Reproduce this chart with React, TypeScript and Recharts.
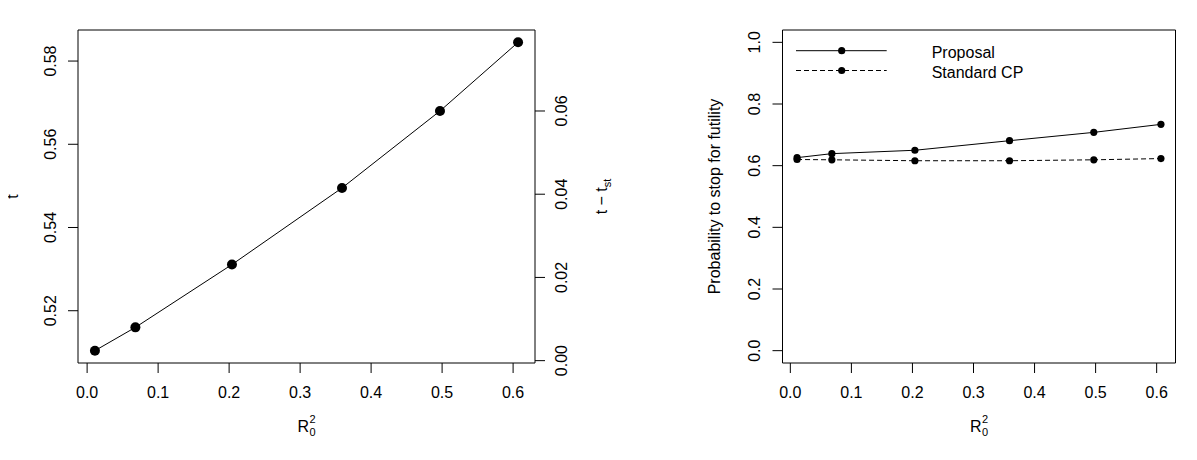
import React from 'react';
import { ComposedChart, Line, XAxis, YAxis, ReferenceArea, Legend } from 'recharts';

// ---- data ----
const r2Values = [0.011, 0.068, 0.204, 0.359, 0.497, 0.607];
const tValues = [0.5104, 0.516, 0.5311, 0.5495, 0.568, 0.5845];
const proposalValues = [0.626, 0.639, 0.65, 0.681, 0.708, 0.734];
const standardCPValues = [0.62, 0.619, 0.616, 0.616, 0.619, 0.623];
const tSt = 0.508;

const xTicks = [0, 0.1, 0.2, 0.3, 0.4, 0.5, 0.6];
const tTicks = [0.52, 0.54, 0.56, 0.58];
const diffTicks = [0, 0.02, 0.04, 0.06];
const probTicks = [0, 0.2, 0.4, 0.6, 0.8, 1.0];
const seriesNames = ['Proposal', 'Standard CP'];

// R-style 4% axis extension
const ext = (lo: number, hi: number): [number, number] => {
  const p = (hi - lo) * 0.04;
  return [lo - p, hi + p];
};

const xDomain = ext(Math.min(...r2Values), Math.max(...r2Values));
const tDomain = ext(Math.min(...tValues), Math.max(...tValues));
const diffDomain: [number, number] = [tDomain[0] - tSt, tDomain[1] - tSt];
const probDomain = ext(0, 1);

const leftData = r2Values.map((x, i) => ({ x, t: tValues[i] }));
const rightData = r2Values.map((x, i) => ({
  x,
  proposal: proposalValues[i],
  standard: standardCPValues[i],
}));

const FONT = '"Liberation Sans", Arial, Helvetica, sans-serif';
const BLACK = '#000';
const DASH = '5 3';

const fmt1 = (v: number) => v.toFixed(1);
const fmt2 = (v: number) => v.toFixed(2);

const makeXTick = (f: (v: number) => string) => (props: any) => {
  const { x, y, payload } = props;
  return (
    <text x={x} y={y + 23} textAnchor="middle" fontFamily={FONT} fontSize={16} fill={BLACK}>
      {f(payload.value)}
    </text>
  );
};

const makeYTick = (f: (v: number) => string, dx: number) => (props: any) => {
  const { x, y, payload } = props;
  return (
    <text
      transform={`translate(${x + dx},${y}) rotate(-90)`}
      textAnchor="middle"
      fontFamily={FONT}
      fontSize={16}
      fill={BLACK}
    >
      {f(payload.value)}
    </text>
  );
};

const R2Label = (props: any) => {
  const vb = props.viewBox || {};
  const cx = vb.x + vb.width / 2;
  const base = vb.y + 68.7;
  return (
    <g fontFamily={FONT} fill={BLACK}>
      <text x={cx - 9} y={base} fontSize={16} fill={BLACK}>R</text>
      <text x={cx + 3} y={base - 8.7} fontSize={11} fill={BLACK}>2</text>
      <text x={cx + 3} y={base + 4.3} fontSize={11} fill={BLACK}>0</text>
    </g>
  );
};

const makeVLabel = (content: React.ReactNode, dx: number) => (props: any) => {
  const vb = props.viewBox || {};
  const cy = vb.y + vb.height / 2;
  return (
    <text
      transform={`translate(${vb.x + dx},${cy}) rotate(-90)`}
      textAnchor="middle"
      fontFamily={FONT}
      fontSize={16}
      fill={BLACK}
    >
      {content}
    </text>
  );
};

const LegendBox = (props: any) => {
  const payload = (props.payload || []) as any[];
  const names = payload.length ? payload.map((p) => p.value) : seriesNames;
  return (
    <svg width={250} height={50} style={{ display: 'block' }}>
      {names.map((n: string, i: number) => {
        const ly = 10.7 + i * 19.8;
        return (
          <g key={n}>
            <line x1={6} x2={96.7} y1={ly} y2={ly} stroke={BLACK} strokeWidth={1}
              strokeDasharray={i === 1 ? DASH : undefined} />
            <circle cx={51.7} cy={ly} r={3.6} fill={BLACK} />
            <text x={141.7} y={ly + 7} fontFamily={FONT} fontSize={16} fill={BLACK}>{n}</text>
          </g>
        );
      })}
    </svg>
  );
};

export default function App() {
  return (
    <div style={{ position: 'relative', width: 1197, height: 460, margin: -8, background: '#fff' }}>
      <div style={{ position: 'absolute', left: 0, top: 0 }}>
        <ComposedChart width={640} height={460} data={leftData}
          margin={{ top: 30, right: 45, bottom: 37, left: 18 }}>
          <XAxis dataKey="x" type="number" domain={xDomain} ticks={xTicks} allowDataOverflow
            height={60} axisLine={false} tickSize={10} tickLine={{ stroke: BLACK }}
            tick={makeXTick(fmt1)} interval={0} label={R2Label} />
          <YAxis yAxisId="left" type="number" domain={tDomain} ticks={tTicks} allowDataOverflow
            width={60} axisLine={false} tickSize={10} tickLine={{ stroke: BLACK }}
            tick={makeYTick(fmt2, -10)} interval={0} label={makeVLabel('t', 0)} />
          <YAxis yAxisId="right" orientation="right" type="number" domain={diffDomain}
            ticks={diffTicks} allowDataOverflow width={60} axisLine={false} tickSize={10}
            tickLine={{ stroke: BLACK }} tick={makeYTick(fmt2, 20)} interval={0}
            label={makeVLabel(<>
              t − t<tspan dy={4} fontSize={11}>st</tspan>
            </>, 72)} />
          <ReferenceArea yAxisId="left" x1={xDomain[0]} x2={xDomain[1]} y1={tDomain[0]} y2={tDomain[1]}
            fill="none" stroke={BLACK} strokeWidth={1} ifOverflow="visible" />
          <Line yAxisId="left" dataKey="t" type="linear" stroke={BLACK} strokeWidth={1}
            dot={{ r: 5, fill: BLACK, stroke: BLACK, strokeWidth: 0 }} isAnimationActive={false} />
        </ComposedChart>
      </div>
      <div style={{ position: 'absolute', left: 640, top: 0 }}>
        <ComposedChart width={557} height={460} data={rightData}
          margin={{ top: 30, right: 21.5, bottom: 37, left: 82.5 }}>
          <XAxis dataKey="x" type="number" domain={xDomain} ticks={xTicks} allowDataOverflow
            height={60} axisLine={false} tickSize={10} tickLine={{ stroke: BLACK }}
            tick={makeXTick(fmt1)} interval={0} label={R2Label} />
          <YAxis type="number" domain={probDomain} ticks={probTicks} allowDataOverflow
            width={60} axisLine={false} tickSize={10} tickLine={{ stroke: BLACK }}
            tick={makeYTick(fmt1, -11)} interval={0}
            label={makeVLabel('Probability to stop for futility', -2.5)} />
          <ReferenceArea x1={xDomain[0]} x2={xDomain[1]} y1={probDomain[0]} y2={probDomain[1]}
            fill="none" stroke={BLACK} strokeWidth={1} ifOverflow="visible" />
          <Legend layout="vertical" align="center" verticalAlign="middle"
            wrapperStyle={{ left: 150, top: 40, width: 250, height: 50 }}
            content={LegendBox} />
          <Line name={seriesNames[0]} dataKey="proposal" type="linear" stroke={BLACK} strokeWidth={1}
            dot={{ r: 3.6, fill: BLACK, stroke: BLACK, strokeWidth: 0 }} isAnimationActive={false} />
          <Line name={seriesNames[1]} dataKey="standard" type="linear" stroke={BLACK} strokeWidth={1}
            strokeDasharray={DASH}
            dot={{ r: 3.6, fill: BLACK, stroke: BLACK, strokeWidth: 0 }} isAnimationActive={false} />
        </ComposedChart>
      </div>
    </div>
  );
}
